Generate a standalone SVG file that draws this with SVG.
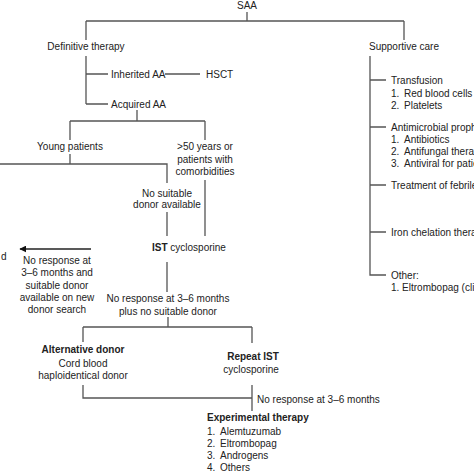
<svg xmlns="http://www.w3.org/2000/svg" width="474" height="474" viewBox="0 0 474 474">
<defs>
<marker id="arr" viewBox="0 0 10 10" refX="9" refY="5" markerWidth="7" markerHeight="7" markerUnits="userSpaceOnUse" orient="auto">
<path d="M0 0 L10 5 L0 10 Z" fill="#111"/>
</marker>
<style>
text{font-family:"Liberation Sans",Arial,sans-serif;font-size:10px;fill:#222}
.b{font-weight:bold}
.m{text-anchor:middle}
.c{fill:none;stroke:#555;stroke-width:1.3}
</style>
</defs>
<rect width="474" height="474" fill="#fff"/>
<g id="connectors" class="c">
<path d="M247 12V21M86 21H404M86 21V40M404 21V40"/>
<path d="M86 56V104M86 74H108M165 74H200M86 104H108"/>
<path d="M137 110V121M70 121H205M70 121V140M205 121V140"/>
<path d="M70 154V164M0 164H167V183M205 180V236M167 212V236"/>
<path d="M91 249H20" stroke="#222" marker-end="url(#arr)"/>
<path d="M167 262V292M168 317V327M83 327H252M83 327V342M252 327V343"/>
<path d="M83 385V398H252M252 385V411"/>
<path d="M370 56V275H386M370 80H386M370 127H386M370 185H386M370 232H386"/>
</g>
<g id="saa"><text class="m" x="247" y="9">SAA</text></g>
<g id="definitive"><text class="m" x="86" y="50">Definitive therapy</text></g>
<g id="inherited"><text x="111" y="77.5">Inherited AA</text></g>
<g id="hsct"><text x="206" y="77.5">HSCT</text></g>
<g id="acquired"><text x="111" y="107.5">Acquired AA</text></g>
<g id="young"><text class="m" x="70" y="150">Young patients</text></g>
<g id="older"><text class="m" x="205" y="150">&gt;50 years or</text><text class="m" x="205" y="162.5">patients with</text><text class="m" x="205" y="174.5">comorbidities</text></g>
<g id="nodonor"><text class="m" x="167" y="196.5">No suitable</text><text class="m" x="167" y="208">donor available</text></g>
<g id="ist"><text x="152" y="251"><tspan class="b">IST</tspan> cyclosporine</text></g>
<g id="leftcut"><text x="1" y="260">d</text></g>
<g id="noresp1"><text class="m" x="57" y="264">No response at</text><text class="m" x="57" y="276.3">3–6 months and</text><text class="m" x="57" y="288.6">suitable donor</text><text class="m" x="57" y="300.9">available on new</text><text class="m" x="57" y="313.2">donor search</text></g>
<g id="noresp2"><text class="m" x="168" y="302">No response at 3–6 months</text><text class="m" x="168" y="314.5">plus no suitable donor</text></g>
<g id="altdonor"><text class="m b" x="83" y="353">Alternative donor</text><text class="m" x="83" y="366.5">Cord blood</text><text class="m" x="83" y="379">haploidentical donor</text></g>
<g id="repeatist"><text class="m b" x="253" y="360">Repeat IST</text><text class="m" x="251" y="372.5">cyclosporine</text></g>
<g id="noresp3"><text x="257" y="403">No response at 3–6 months</text></g>
<g id="experimental"><text class="b" x="207" y="421">Experimental therapy</text>
<text x="207" y="435">1.</text><text x="220" y="435">Alemtuzumab</text>
<text x="207" y="447">2.</text><text x="220" y="447">Eltrombopag</text>
<text x="207" y="459">3.</text><text x="220" y="459">Androgens</text>
<text x="207" y="471">4.</text><text x="220" y="471">Others</text></g>
<g id="supportive"><text class="m" x="404" y="50">Supportive care</text></g>
<g id="transfusion"><text x="391" y="84">Transfusion</text><text x="391" y="97">1.</text><text x="404" y="97">Red blood cells</text><text x="391" y="109">2.</text><text x="404" y="109">Platelets</text></g>
<g id="antimicrobial"><text x="391" y="131">Antimicrobial prophylaxis</text><text x="391" y="142.5">1.</text><text x="404" y="142.5">Antibiotics</text><text x="391" y="155">2.</text><text x="404" y="155">Antifungal therapy</text><text x="391" y="167">3.</text><text x="404" y="167">Antiviral for patients</text></g>
<g id="febrile"><text x="391" y="189">Treatment of febrile neutropenia</text></g>
<g id="iron"><text x="391" y="236">Iron chelation therapy</text></g>
<g id="other"><text x="391" y="279">Other:</text><text x="391" y="291">1. Eltrombopag (clinical trial)</text></g>
</svg>
